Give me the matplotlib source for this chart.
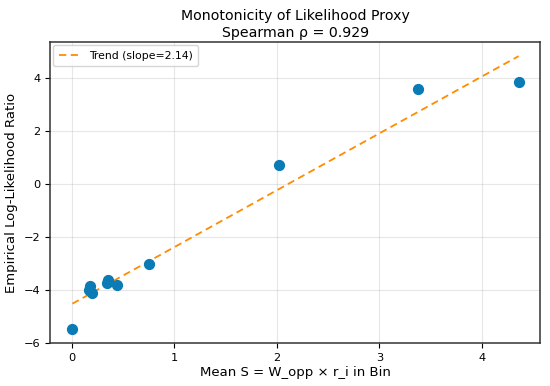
import numpy as np
import matplotlib
matplotlib.use("Agg")
import matplotlib.pyplot as plt

# bin means
mean_s = [0.003, 0.169, 0.176, 0.193, 0.345, 0.355, 0.443, 0.756, 2.02, 3.38, 4.36]
llr = [-5.46, -4.01, -3.83, -4.11, -3.73, -3.64, -3.82, -3.01, 0.71, 3.57, 3.83]

slope = 2.14
intercept = -4.52
rho = 0.929

fig, ax = plt.subplots(figsize=(5.5, 3.86), dpi=100)

ax.scatter(mean_s, llr, s=50, color="#0a7bb5", zorder=3)
xs = np.array([min(mean_s), max(mean_s)])
ax.plot(xs, slope * xs + intercept, "--", color="#ff8c00", lw=1.3,
        dashes=(4, 2.5), label=f"Trend (slope={slope:.2f})")

ax.set_xlabel("Mean S = W_opp × r_i in Bin", fontsize=9.5, labelpad=2)
ax.set_ylabel("Empirical Log-Likelihood Ratio", fontsize=9.5)
ax.set_title(f"Monotonicity of Likelihood Proxy\nSpearman ρ = {rho:.3f}",
             fontsize=10.2, pad=4)
ax.set_ylim(-6, 5.34)
ax.set_xlim(-0.215, 4.57)
ax.tick_params(labelsize=8.2)
ax.grid(True, alpha=0.3)
for sp in ax.spines.values():
    sp.set_linewidth(1.1)
    sp.set_color("#333333")
ax.legend(loc="upper left", fontsize=7.8, borderpad=0.5, borderaxespad=0.3)

fig.subplots_adjust(left=0.091, right=0.982, top=0.891, bottom=0.111)
fig.savefig("out.png")
